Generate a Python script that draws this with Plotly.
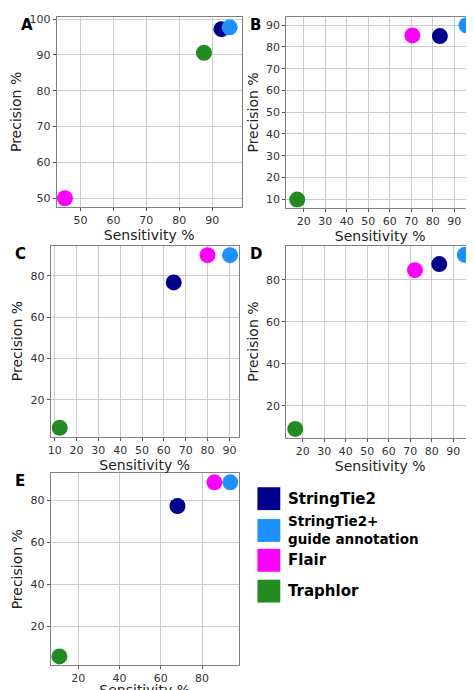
import plotly.graph_objects as go

methods = ["StringTie2", "StringTie2+<br>guide annotation", "Flair", "Traphlor"]
colors = ["#00008b", "#1e90ff", "#ff00ff", "#228b22"]

sens_A = [92.8, 95.3, 45.3, 87.5]
prec_A = [97.2, 97.7, 50.0, 90.6]
sens_B = [83.3, 95.7, 70.5, 16.9]
prec_B = [85.0, 90.0, 85.3, 9.8]
sens_C = [64.5, 90.3, 80.0, 12.3]
prec_C = [76.8, 90.0, 90.0, 6.4]
sens_D = [83.5, 95.4, 72.2, 16.5]
prec_D = [87.5, 91.9, 84.6, 8.9]
sens_E = [68.1, 93.7, 86.0, 10.9]
prec_E = [77.3, 88.6, 88.6, 5.6]

panels = [
    ("A", sens_A, prec_A, (46, 232, 5, 196), [42.8, 98.9], [47.6, 100.6], 10, 10),
    ("B", sens_B, prec_B, (277, 466, 5, 197), [11.8, 99.2], [6.0, 93.8], 10, 10),
    ("C", sens_C, prec_C, (40, 229, 235, 427), [8.2, 94.2], [2.2, 94.6], 10, 20),
    ("D", sens_D, prec_D, (277, 466, 235, 428), [12.3, 99.7], [4.8, 96.3], 10, 20),
    ("E", sens_E, prec_E, (40, 229, 464, 657), [6.7, 97.7], [1.4, 92.9], 20, 20),
]
W, H = 474, 690
fig = go.Figure()
font = "DejaVu Sans"
for i, (lab, sx, py, (x0, x1, y0, y1), xr, yr, dx, dy) in enumerate(panels):
    n = "" if i == 0 else str(i + 1)
    for m in range(4):
        fig.add_trace(go.Scatter(x=[sx[m]], y=[py[m]], mode="markers",
                                 marker=dict(size=16, color=colors[m]), showlegend=False,
                                 xaxis="x" + n, yaxis="y" + n))
    ax = dict(range=xr, dtick=dx, showgrid=True, gridcolor="#cccccc", zeroline=False,
              showline=True, linecolor="#808080", mirror=True, linewidth=1,
              tickfont=dict(size=11, color="#333"), ticks="outside", ticklen=3, tickcolor="#555",
              title=dict(text="Sensitivity %", font=dict(size=14, color="#222"), standoff=2),
              domain=[x0 / W, x1 / W], anchor="y" + n)
    ay = dict(range=yr, dtick=dy, showgrid=True, gridcolor="#cccccc", zeroline=False,
              showline=True, linecolor="#808080", mirror=True, linewidth=1,
              tickfont=dict(size=11, color="#333"), ticks="outside", ticklen=3, tickcolor="#555",
              title=dict(text="Precision %", font=dict(size=14, color="#222"), standoff=4),
              domain=[1 - y1 / H, 1 - y0 / H], anchor="x" + n)
    fig.update_layout(**{"xaxis" + n: ax, "yaxis" + n: ay})
    fig.add_annotation(text="<b>" + lab + "</b>", xref="paper", yref="paper",
                       x=(x0 - 38) / W, y=1 - (y0 - 3) / H, xanchor="left", yanchor="top",
                       showarrow=False, font=dict(size=15, family=font, color="black"))

leg_y = [478, 510, 540, 571]
txt_y = [485, 516, 546, 576]
for m in range(4):
    fig.add_shape(type="rect", xref="paper", yref="paper", x0=248 / W, x1=271 / W,
                  y0=1 - (leg_y[m] + 23) / H, y1=1 - leg_y[m] / H,
                  fillcolor=colors[m], line=dict(width=0))
    fig.add_annotation(text="<b>" + methods[m] + "</b>", xref="paper", yref="paper",
                       x=277 / W, y=1 - (leg_y[m] + 11.5) / H, xanchor="left", yanchor="middle",
                       align="left", showarrow=False,
                       font=dict(size=15 if m != 1 else 13.5, family=font, color="black"))

fig.update_layout(width=W, height=H, margin=dict(l=0, r=0, t=0, b=0),
                  paper_bgcolor="white", plot_bgcolor="white",
                  font=dict(family=font))
fig.write_html("out.html")
